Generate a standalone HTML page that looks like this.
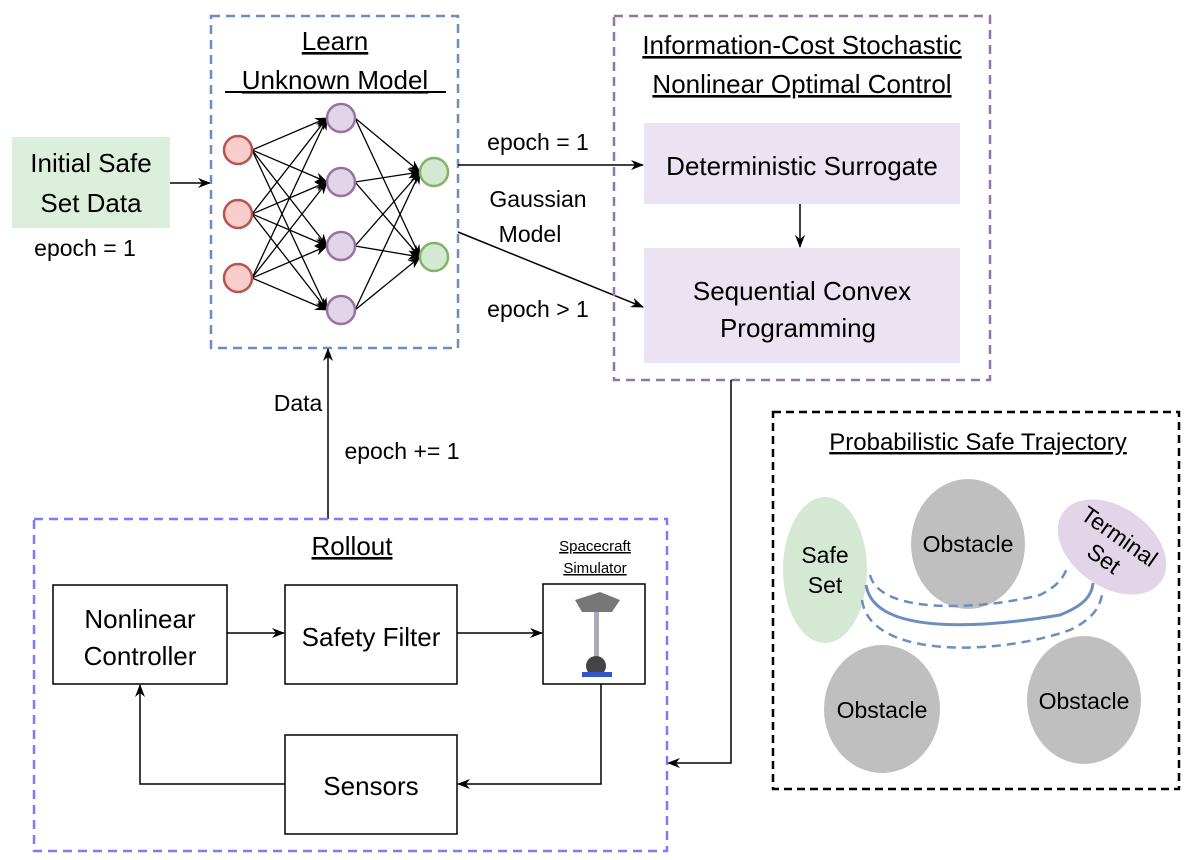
<!DOCTYPE html>
<html><head><style>body{margin:0;background:#fff}svg text{font-family:"Liberation Sans",sans-serif}</style></head><body>
<svg width="1191" height="855" xmlns="http://www.w3.org/2000/svg">
<defs><marker id="a" markerWidth="13" markerHeight="12" refX="12" refY="6" orient="auto" markerUnits="userSpaceOnUse"><path d="M0,1 L13,6 L0,11 L4,6Z" fill="#000"/></marker></defs>
<rect x="12" y="137" width="158" height="91" fill="#dcefdc"/>
<text x="91" y="172" font-size="26" text-anchor="middle">Initial Safe</text>
<text x="91" y="212" font-size="26" text-anchor="middle">Set Data</text>
<text x="85" y="256" font-size="23" text-anchor="middle">epoch = 1</text>
<line x1="170" y1="183" x2="210" y2="183" stroke="#000" stroke-width="1.5" marker-end="url(#a)"/>
<rect x="211" y="16" width="247" height="332" fill="none" stroke="#6c8ebf" stroke-width="2.5" stroke-dasharray="9,6"/>
<text x="335" y="50" font-size="26" text-anchor="middle" text-decoration="underline">Learn</text>
<text x="335" y="89" font-size="26" text-anchor="middle" text-decoration="underline">Unknown Model</text>
<line x1="225" y1="92" x2="446" y2="92" stroke="#000" stroke-width="2"/>
<g stroke="#000" stroke-width="1.3" marker-end="url(#a)">
<line x1="252" y1="150" x2="327" y2="118"/><line x1="252" y1="150" x2="327" y2="182"/><line x1="252" y1="150" x2="327" y2="246"/><line x1="252" y1="150" x2="327" y2="310"/>
<line x1="252" y1="214" x2="327" y2="118"/><line x1="252" y1="214" x2="327" y2="182"/><line x1="252" y1="214" x2="327" y2="246"/><line x1="252" y1="214" x2="327" y2="310"/>
<line x1="252" y1="278" x2="327" y2="118"/><line x1="252" y1="278" x2="327" y2="182"/><line x1="252" y1="278" x2="327" y2="246"/><line x1="252" y1="278" x2="327" y2="310"/>
<line x1="355" y1="118" x2="420" y2="172"/><line x1="355" y1="118" x2="420" y2="257"/>
<line x1="355" y1="182" x2="420" y2="172"/><line x1="355" y1="182" x2="420" y2="257"/>
<line x1="355" y1="246" x2="420" y2="172"/><line x1="355" y1="246" x2="420" y2="257"/>
<line x1="355" y1="310" x2="420" y2="172"/><line x1="355" y1="310" x2="420" y2="257"/>
</g>
<g stroke-width="2.5"><circle cx="238" cy="150" r="14" fill="#f8cecc" stroke="#b85450"/><circle cx="238" cy="214" r="14" fill="#f8cecc" stroke="#b85450"/><circle cx="238" cy="278" r="14" fill="#f8cecc" stroke="#b85450"/>
<circle cx="341" cy="118" r="14" fill="#e1d5e7" stroke="#9673a6"/><circle cx="341" cy="182" r="14" fill="#e1d5e7" stroke="#9673a6"/><circle cx="341" cy="246" r="14" fill="#e1d5e7" stroke="#9673a6"/><circle cx="341" cy="310" r="14" fill="#e1d5e7" stroke="#9673a6"/>
<circle cx="434" cy="172" r="14" fill="#d5e8d4" stroke="#82b366"/><circle cx="434" cy="257" r="14" fill="#d5e8d4" stroke="#82b366"/></g>
<line x1="458" y1="165" x2="643" y2="165" stroke="#000" stroke-width="1.5" marker-end="url(#a)"/>
<line x1="458" y1="232" x2="643" y2="307" stroke="#000" stroke-width="1.5" marker-end="url(#a)"/>
<text x="538" y="150" font-size="23" text-anchor="middle">epoch = 1</text>
<text x="538" y="207" font-size="23" text-anchor="middle">Gaussian</text>
<text x="530" y="242" font-size="23" text-anchor="middle">Model</text>
<text x="538" y="317" font-size="23" text-anchor="middle">epoch &gt; 1</text>
<rect x="614" y="16" width="376" height="364" fill="none" stroke="#9673a6" stroke-width="2.5" stroke-dasharray="9,6"/>
<text x="802" y="54" font-size="26" text-anchor="middle" text-decoration="underline">Information-Cost Stochastic</text>
<text x="802" y="93" font-size="26" text-anchor="middle" text-decoration="underline">Nonlinear Optimal Control</text>
<rect x="644" y="123" width="316" height="81" fill="#ebe3f1"/>
<text x="802" y="175" font-size="26" text-anchor="middle">Deterministic Surrogate</text>
<line x1="800" y1="204" x2="800" y2="247" stroke="#000" stroke-width="1.5" marker-end="url(#a)"/>
<rect x="644" y="248" width="316" height="115" fill="#ebe3f1"/>
<text x="802" y="300" font-size="26" text-anchor="middle">Sequential Convex</text>
<text x="798" y="337" font-size="26" text-anchor="middle">Programming</text>
<polyline points="731,380 731,763 668,763" fill="none" stroke="#000" stroke-width="1.5" marker-end="url(#a)"/>
<line x1="328" y1="519" x2="328" y2="349" stroke="#000" stroke-width="1.5" marker-end="url(#a)"/>
<text x="298" y="411" font-size="23" text-anchor="middle">Data</text>
<text x="402" y="459" font-size="23" text-anchor="middle">epoch += 1</text>
<rect x="34" y="519" width="633" height="332" fill="none" stroke="#7b7bff" stroke-width="2.5" stroke-dasharray="9,6"/>
<text x="352" y="555" font-size="26" text-anchor="middle" text-decoration="underline">Rollout</text>
<g fill="#fff" stroke="#000" stroke-width="1.5"><rect x="53" y="585" width="174" height="99"/><rect x="285" y="585" width="172" height="99"/><rect x="543" y="584" width="102" height="100"/><rect x="285" y="735" width="172" height="99"/></g>
<text x="140" y="628" font-size="26" text-anchor="middle">Nonlinear</text>
<text x="140" y="665" font-size="26" text-anchor="middle">Controller</text>
<text x="371" y="646" font-size="26" text-anchor="middle">Safety Filter</text>
<text x="371" y="795" font-size="26" text-anchor="middle">Sensors</text>
<text x="595" y="551" font-size="15" text-anchor="middle" text-decoration="underline">Spacecraft</text>
<text x="595" y="573" font-size="15" text-anchor="middle" text-decoration="underline">Simulator</text>
<g><polygon points="575,600 600,592 620,600 612,612 582,612" fill="#777"/><rect x="594" y="612" width="5" height="46" fill="#aab"/><circle cx="596" cy="666" r="10" fill="#444"/><rect x="582" y="672" width="30" height="5" fill="#35c"/></g>
<line x1="227" y1="633" x2="284" y2="633" stroke="#000" stroke-width="1.5" marker-end="url(#a)"/>
<line x1="457" y1="633" x2="542" y2="633" stroke="#000" stroke-width="1.5" marker-end="url(#a)"/>
<polyline points="601,684 601,784 458,784" fill="none" stroke="#000" stroke-width="1.5" marker-end="url(#a)"/>
<polyline points="285,784 140,784 140,685" fill="none" stroke="#000" stroke-width="1.5" marker-end="url(#a)"/>
<rect x="773" y="412" width="406" height="377" fill="none" stroke="#000" stroke-width="2.5" stroke-dasharray="8,5"/>
<text x="978" y="450" font-size="24" text-anchor="middle" text-decoration="underline">Probabilistic Safe Trajectory</text>
<ellipse cx="825" cy="570" rx="42" ry="73" fill="#d5e8d4"/>
<text x="825" y="563" font-size="23" text-anchor="middle">Safe</text>
<text x="825" y="593" font-size="23" text-anchor="middle">Set</text>
<ellipse cx="968" cy="544" rx="57" ry="65" fill="#bfbfbf"/>
<text x="968" y="552" font-size="23" text-anchor="middle">Obstacle</text>
<ellipse cx="882" cy="709" rx="58" ry="64" fill="#bfbfbf"/>
<text x="882" y="718" font-size="23" text-anchor="middle">Obstacle</text>
<ellipse cx="1084" cy="700" rx="57" ry="64" fill="#bfbfbf"/>
<text x="1084" y="709" font-size="23" text-anchor="middle">Obstacle</text>
<g transform="translate(1112,547) rotate(35)"><ellipse cx="0" cy="0" rx="60" ry="40" fill="#e1d5e7"/>
<text x="0" y="-5" font-size="23" text-anchor="middle">Terminal</text><text x="0" y="22" font-size="23" text-anchor="middle">Set</text></g>
<path d="M866,585 C875,640 1000,625 1060,615 C1085,605 1092,595 1093,583" fill="none" stroke="#6c8ebf" stroke-width="3"/>
<path d="M870,575 C880,615 980,610 1040,595 C1060,585 1065,575 1068,565" fill="none" stroke="#6c8ebf" stroke-width="2.5" stroke-dasharray="9,6"/>
<path d="M862,600 C870,660 1000,655 1070,630 C1095,618 1100,605 1102,595" fill="none" stroke="#6c8ebf" stroke-width="2.5" stroke-dasharray="9,6"/>
</svg>
</body></html>
